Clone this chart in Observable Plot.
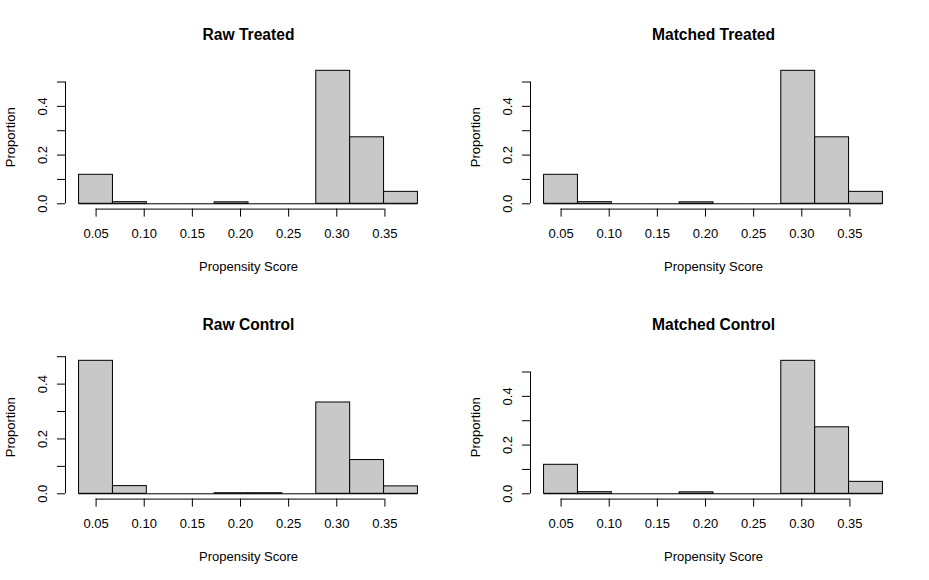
<!DOCTYPE html>
<html>
<head>
<meta charset="utf-8">
<script src="https://cdn.jsdelivr.net/npm/d3@7"></script>
<script src="https://cdn.jsdelivr.net/npm/@observablehq/plot@0.6"></script>
<style>
  html, body { margin: 0; padding: 0; background: #fff; }
  #wrap { position: relative; width: 929px; height: 580px; overflow: hidden; }
  .panel { position: absolute; width: 465px; height: 290px; }
  .panel svg { display: block; }
</style>
</head>
<body>
<div id="wrap"></div>
<script>
// Histogram bin edges (propensity score)
const breaks = [0.0323, 0.0675, 0.1027, 0.1379, 0.1731, 0.2083, 0.2435, 0.2787, 0.3139, 0.3491, 0.3843];
// Proportions per bin
const rawTreated     = [0.119, 0.0066, 0, 0, 0.006, 0, 0, 0.546, 0.273, 0.049];
const matchedTreated = [0.119, 0.0066, 0, 0, 0.006, 0, 0, 0.546, 0.273, 0.049];
const rawControl     = [0.485, 0.028, 0, 0, 0.002, 0.002, 0, 0.333, 0.123, 0.027];
const matchedControl = [0.119, 0.0066, 0, 0, 0.006, 0, 0, 0.546, 0.273, 0.049];

const titles = ["Raw Treated", "Matched Treated", "Raw Control", "Matched Control"];
const xTicks = [0.05, 0.10, 0.15, 0.20, 0.25, 0.30, 0.35];
const yTicks = [0, 0.1, 0.2, 0.3, 0.4, 0.5];
const yLabelTicks = [0, 0.2, 0.4];
const xLabel = "Propensity Score";
const yLabel = "Proportion";

const series = [rawTreated, matchedTreated, rawControl, matchedControl];
const positions = [[0, 0], [464.5, 0], [0, 290], [464.5, 290]];

const font = "'Liberation Sans', Arial, Helvetica, sans-serif";
const wrap = document.getElementById("wrap");

series.forEach((vals, k) => {
  const bins = vals.map((v, i) => ({x1: breaks[i], x2: breaks[i + 1], y: v}));
  const r = breaks[breaks.length - 1] - breaks[0];
  const xDom = [breaks[0] - 0.04 * r, breaks[breaks.length - 1] + 0.04 * r];
  const maxY = d3.max(vals);
  const yDom = [-0.04 * maxY, 1.04 * maxY];
  const yT = yTicks.filter(t => t <= yDom[1]);

  const chart = Plot.plot({
    width: 465,
    height: 290,
    marginLeft: 65,
    marginRight: 34,
    marginTop: 65,
    marginBottom: 81.4,
    style: {fontFamily: font, fontSize: "13px", color: "black", background: "white", overflow: "visible"},
    x: {domain: xDom, axis: null},
    y: {domain: yDom, axis: null},
    marks: [
      Plot.rectY(bins, {x1: "x1", x2: "x2", y1: 0, y2: "y", fill: "#c8c8c8", stroke: "black", strokeWidth: 1}),
      Plot.ruleY(bins, {x1: "x1", x2: "x2", y: 0, stroke: "black", strokeWidth: 1}),
      // x axis
      Plot.ruleY([yDom[0]], {x1: xTicks[0], x2: xTicks[xTicks.length - 1], stroke: "black", strokeWidth: 1}),
      Plot.axisX({ticks: xTicks, tickSize: 8, tickPadding: 11.5, tickFormat: d3.format(".2f"), label: null, fontSize: 13}),
      // y axis
      Plot.ruleX([xDom[0]], {y1: yT[0], y2: yT[yT.length - 1], stroke: "black", strokeWidth: 1}),
      Plot.axisY({ticks: yT, tickSize: 8, tickFormat: () => "", label: null}),
      Plot.axisY({ticks: yLabelTicks, tickSize: 0, tickPadding: 19, tickRotate: -90, tickFormat: d3.format(".1f"), label: null, fontSize: 13}),
      // titles
      Plot.text([titles[k]], {frameAnchor: "top", textAnchor: "middle", lineAnchor: "bottom", dy: -26, fontWeight: "bold", fontSize: 15.6}),
      Plot.text([xLabel], {frameAnchor: "bottom", textAnchor: "middle", lineAnchor: "bottom", dy: 61.4, fontSize: 13}),
      Plot.text([yLabel], {frameAnchor: "left", textAnchor: "middle", lineAnchor: "bottom", rotate: -90, dx: -50.5, fontSize: 13})
    ]
  });
  const div = document.createElement("div");
  div.className = "panel";
  div.style.left = positions[k][0] + "px";
  div.style.top = positions[k][1] + "px";
  div.appendChild(chart);
  wrap.appendChild(div);
});
</script>
</body>
</html>
